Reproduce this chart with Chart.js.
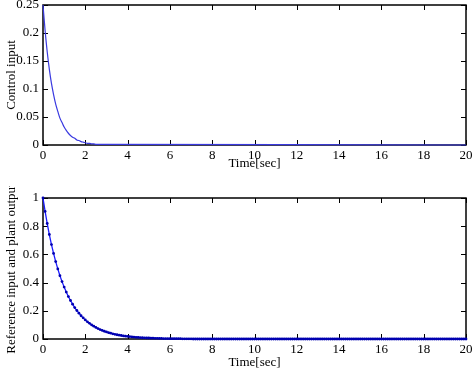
<!DOCTYPE html>
<html>
<head>
<meta charset="utf-8">
<script src="https://cdn.jsdelivr.net/npm/chart.js@4"></script>
<style>
body{margin:0;background:#fff;}
#wrap{position:relative;width:474px;height:371px;overflow:hidden;}
canvas{position:absolute;left:0;}
</style>
</head>
<body>
<div id="wrap">
<canvas id="topChart" style="top:0px"></canvas>
<canvas id="bottomChart" style="top:186px"></canvas>
</div>
<script>
// control input
const topTime = [0,0.1,0.2,0.3,0.4,0.5,0.6,0.7,0.8,0.9,1.0,1.1,1.2,1.3,1.4,1.5,1.6,1.7,1.8,1.9,2.0,2.1,2.2,2.3,2.4,2.5,2.6,2.7,2.8,2.9,3.0,20];
const controlInput = [0.250,0.204,0.166,0.135,0.110,0.090,0.073,0.060,0.048,0.040,0.032,0.026,0.021,0.017,0.014,0.012,0.009,0.008,0.006,0.005,0.004,0.003,0.003,0.002,0.002,0.001,0.001,0.001,0.001,0.001,0.001,0];

// plant output, one sample every 0.1 s from 0 to 20
const sampleStep = 0.1;
const plantOutput = [
1.000,0.905,0.819,0.741,0.670,0.607,0.549,0.497,0.449,0.407,
0.368,0.333,0.301,0.273,0.247,0.223,0.202,0.183,0.165,0.150,
0.135,0.122,0.111,0.100,0.091,0.082,0.074,0.067,0.061,0.055,
0.050,0.045,0.041,0.037,0.033,0.030,0.027,0.025,0.022,0.020,
0.018,0.017,0.015,0.014,0.012,0.011,0.010,0.009,0.008,0.007,
0.007,0.006,0.006,0.005,0.005,0.004,0.004,0.003,0.003,0.003,
0.002,0.002,0.002,0.002,0.002,0.002,0.001,0.001,0.001,0.001,
0.001,0,0,0,0,0,0,0,0,0,
0,0,0,0,0,0,0,0,0,0,
0,0,0,0,0,0,0,0,0,0,
0,0,0,0,0,0,0,0,0,0,
0,0,0,0,0,0,0,0,0,0,
0,0,0,0,0,0,0,0,0,0,
0,0,0,0,0,0,0,0,0,0,
0,0,0,0,0,0,0,0,0,0,
0,0,0,0,0,0,0,0,0,0,
0,0,0,0,0,0,0,0,0,0,
0,0,0,0,0,0,0,0,0,0,
0,0,0,0,0,0,0,0,0,0,
0,0,0,0,0,0,0,0,0,0,
0
];

const xTitle = "Time[sec]";
const topYTitle = "Control input";
const bottomYTitle = "Reference input and plant output";

const FONT = {family:"'Liberation Serif', 'DejaVu Serif', serif", size:13, lineHeight:1.2};

// matlab style box with ticks pointing inward
const boxPlugin = {
id:"box",
beforeDatasetsDraw(chart){
const ctx = chart.ctx;
const a = chart.chartArea;
const xs = chart.scales.x, ys = chart.scales.y;
const len = 5;
ctx.save();
ctx.strokeStyle = "#000";
ctx.lineWidth = 1;
ctx.beginPath();
xs.ticks.forEach((t,i)=>{
const px = Math.round(xs.getPixelForTick(i))+0.5;
ctx.moveTo(px,a.bottom); ctx.lineTo(px,a.bottom-len);
ctx.moveTo(px,a.top); ctx.lineTo(px,a.top+len);
});
ys.ticks.forEach((t,i)=>{
const py = Math.round(ys.getPixelForTick(i))+0.5;
ctx.moveTo(a.left,py); ctx.lineTo(a.left+len,py);
ctx.moveTo(a.right,py); ctx.lineTo(a.right-len,py);
});
ctx.stroke();
ctx.lineWidth = 1.5;
ctx.strokeRect(a.left,a.top,a.right-a.left,a.bottom-a.top);
ctx.restore();
}
};

function makeOptions(yMax, yStep, yTitle, padTop, xHeight){
return {
responsive:false,
animation:false,
layout:{padding:{top:padTop,right:8,left:0,bottom:0}},
plugins:{legend:{display:false},tooltip:{enabled:false}},
scales:{
x:{
type:"linear",min:0,max:20,
grid:{display:false,drawTicks:false},
border:{display:false},
ticks:{stepSize:2,color:"#000",font:FONT,padding:3,maxRotation:0},
title:{display:true,text:xTitle,color:"#000",font:FONT,padding:{top:0,bottom:1}},
afterFit(s){ s.height = xHeight; s.paddingLeft = 0; s.paddingRight = 0; }
},
y:{
min:0,max:yMax,
grid:{display:false,drawTicks:false},
border:{display:false},
ticks:{stepSize:yStep,color:"#000",font:FONT,padding:4,
callback:v=>String(Number(v.toFixed(2)))},
title:{display:true,text:yTitle,color:"#000",font:FONT,padding:{top:4,bottom:0}},
afterFit(s){ s.width = 43; s.paddingTop = 0; s.paddingBottom = 0; }
}
}
};
}

function loadTopChart(){
const c = document.getElementById("topChart");
c.width = 474; c.height = 172;
new Chart(c,{
type:"line",
data:{datasets:[{
data:topTime.map((t,i)=>({x:t,y:controlInput[i]})),
borderColor:"#3a3ae0",
borderWidth:1.2,
pointRadius:0,
tension:0.3,
clip:3
}]},
options:makeOptions(0.25,0.05,topYTitle,5,27),
plugins:[boxPlugin]
});
}

function loadBottomChart(){
const c = document.getElementById("bottomChart");
c.width = 474; c.height = 185;
new Chart(c,{
type:"line",
data:{datasets:[{
data:plantOutput.map((v,i)=>({x:i*sampleStep,y:v})),
borderColor:"#1a1aff",
borderWidth:1.3,
pointRadius:1.4,
pointBackgroundColor:"#0000b0",
pointBorderWidth:0,
clip:3
}]},
options:makeOptions(1,0.2,bottomYTitle,12,32),
plugins:[boxPlugin]
});
}

window.onload=function(){
loadTopChart();
loadBottomChart();
};
</script>
</body>
</html>
